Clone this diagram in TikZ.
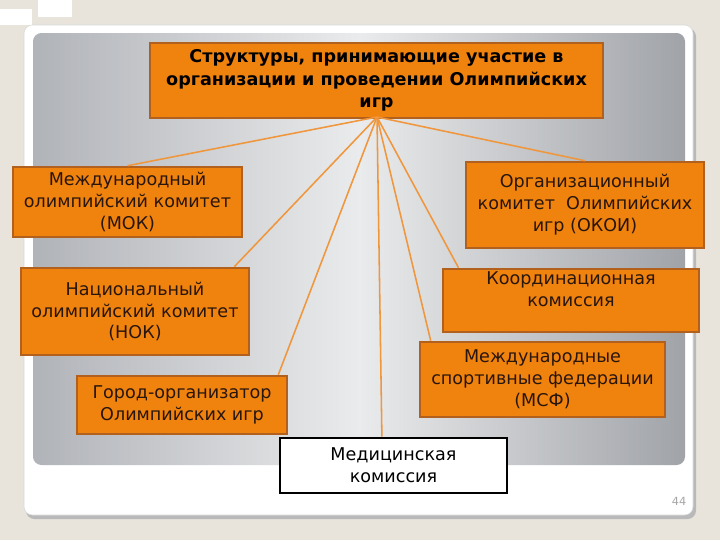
\documentclass[tikz,border=0pt]{standalone}
\usepackage{fontspec}
\setmainfont{DejaVu Sans}
\definecolor{pagebg}{RGB}{232,228,220}
\definecolor{boxfill}{RGB}{240,130,14}
\definecolor{boxedge}{RGB}{178,96,30}
\definecolor{boxtext}{RGB}{40,22,12}
\definecolor{linkcolor}{RGB}{240,150,60}
\definecolor{panelleft}{RGB}{176,179,184}
\definecolor{panelright}{RGB}{160,163,168}
\definecolor{panelmid}{RGB}{234,235,236}

\begin{document}
\begin{tikzpicture}[x=0.025cm,y=-0.025cm,
  box/.style={draw=boxedge,line width=1.8pt,fill=boxfill,align=center,inner sep=0pt,
    text=boxtext,font=\fontsize{12.5}{15.6}\selectfont},
  medbox/.style={box,draw=black,line width=2pt,fill=white,text=black},
  link/.style={draw=linkcolor,line width=1.1pt}]
  \useasboundingbox[fill=pagebg] (0,0) rectangle (720,540);
  \fill[white] (0,9) rectangle (32,25);
  \fill[white] (38,0) rectangle (72,17);
  \fill[gray!55,rounded corners=6] (26,28) rectangle (696,519);
  \filldraw[fill=white,draw=gray!30,rounded corners=6] (24,25) rectangle (693,515);
  \shade[left color=panelleft,right color=panelright,middle color=panelmid,rounded corners=6]
    (33,33) rectangle (685,465);
  \node[box,font=\bfseries\fontsize{12.5}{15.8}\selectfont,text=black,
    minimum width=11.325cm,minimum height=1.875cm] (title) at (376.5,80.5)
    {Структуры, принимающие участие в\\организации и проведении Олимпийских\\игр};
  \node[box,minimum width=5.725cm,minimum height=1.75cm] (mok) at (127.5,202)
    {Международный\\олимпийский комитет\\(МОК)};
  \node[box,minimum width=5.95cm,minimum height=2.15cm] (okoi) at (585,205)
    {Организационный\\комитет~ Олимпийских\\игр (ОКОИ)};
  \node[box,minimum width=6.4cm,minimum height=1.575cm] (coord) at (571,300.5)
    {Координационная\\комиссия\\\mbox{}};
  \node[box,minimum width=5.7cm,minimum height=2.175cm] (nok) at (135,311.5)
    {Национальный\\олимпийский комитет\\(НОК)};
  \node[box,minimum width=6.125cm,minimum height=1.875cm] (msf) at (542.5,379.5)
    {Международные\\спортивные федерации\\(МСФ)};
  \node[box,minimum width=5.25cm,minimum height=1.45cm] (city) at (182,405)
    {Город-организатор\\Олимпийских игр};
  \node[medbox,minimum width=5.675cm,minimum height=1.375cm] (med) at (393.5,465.5)
    {Медицинская\\комиссия};
  \node[text=gray!70,font=\footnotesize] (pagenum) at (679,501) {44};
  \coordinate (hub) at (377,117);
  \draw[link] (hub) -- (mok.north);
  \draw[link] (hub) -- (okoi.north);
  \draw[link] (hub) -- ([xshift=.42cm]coord.north west);
  \draw[link] (hub) -- ([xshift=.3cm]msf.north west);
  \draw[link] (hub) -- ([xshift=-.29cm]med.north);
  \draw[link] (hub) -- ([xshift=-.25cm]city.north east);
  \draw[link] (hub) -- ([xshift=-.4cm]nok.north east);
\end{tikzpicture}
\end{document}
